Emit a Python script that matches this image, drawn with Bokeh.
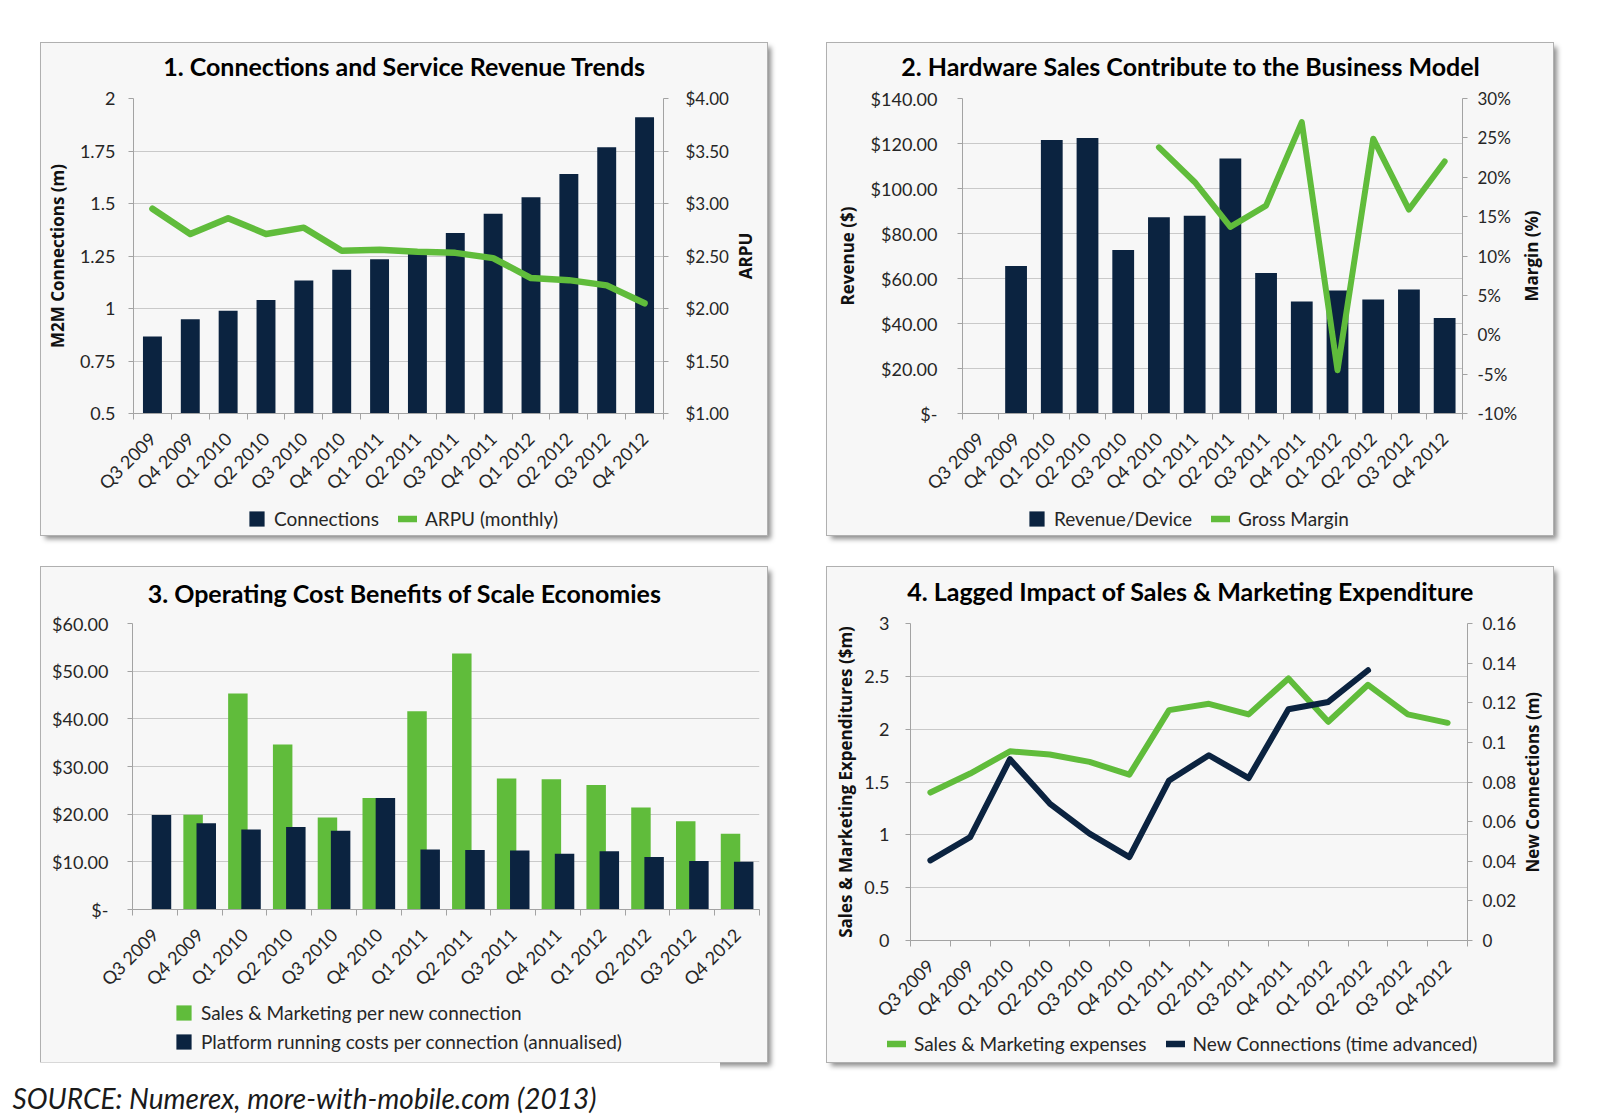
import math
from bokeh.plotting import figure
from bokeh.models import (Range1d, LinearAxis, FixedTicker, CustomJSTickFormatter,
                          Legend, LegendItem, Label, Spacer, ColumnDataSource, Plot)
from bokeh.layouts import column, row
from bokeh.embed import file_html
from bokeh.resources import INLINE
from bokeh.transform import dodge

NAN = float("nan")

# ---------------- data ----------------
quarters = ["Q3 2009", "Q4 2009", "Q1 2010", "Q2 2010", "Q3 2010", "Q4 2010",
            "Q1 2011", "Q2 2011", "Q3 2011", "Q4 2011", "Q1 2012", "Q2 2012",
            "Q3 2012", "Q4 2012"]

# 1. Connections and Service Revenue Trends
connections_m = [0.867, 0.949, 0.989, 1.041, 1.133, 1.184, 1.235, 1.27,
                 1.359, 1.451, 1.53, 1.641, 1.768, 1.911]
arpu_monthly = [2.95, 2.71, 2.86, 2.71, 2.77, 2.55, 2.56, 2.54, 2.53, 2.48,
                2.29, 2.27, 2.22, 2.05]

# 2. Hardware Sales Contribute to the Business Model
revenue_per_device = [NAN, 65.6, 121.6, 122.5, 72.7, 87.2, 87.9, 113.3, 62.5,
                      49.8, 54.7, 50.7, 55.1, 42.5]
gross_margin_pct = [NAN, NAN, NAN, NAN, NAN, 23.8, 19.4, 13.7, 16.4, 27.0,
                    -4.5, 24.9, 15.9, 22.0]

# 3. Operating Cost Benefits of Scale Economies
sm_per_new_connection = [NAN, 19.9, 45.3, 34.6, 19.3, 23.4, 41.6, 53.7, 27.5,
                         27.3, 26.1, 21.4, 18.5, 15.9]
platform_cost_per_connection = [19.8, 18.1, 16.8, 17.3, 16.5, 23.4, 12.6, 12.5,
                                12.4, 11.7, 12.2, 11.0, 10.2, 10.0]

# 4. Lagged Impact of Sales & Marketing Expenditure
sm_expenses_m = [1.40, 1.58, 1.79, 1.76, 1.69, 1.57, 2.18, 2.24, 2.14, 2.48,
                 2.07, 2.42, 2.14, 2.06]
new_connections_m = [0.0404, 0.0522, 0.0915, 0.0691, 0.0539, 0.0421, 0.0808,
                     0.0935, 0.0820, 0.1167, 0.1204, 0.1364, NAN, NAN]

# tick values
ticks_conn = [0.5, 0.75, 1, 1.25, 1.5, 1.75, 2]
ticks_arpu = [1, 1.5, 2, 2.5, 3, 3.5, 4]
ticks_rev = [0, 20, 40, 60, 80, 100, 120, 140]
ticks_margin = [-10, -5, 0, 5, 10, 15, 20, 25, 30]
ticks_cost = [0, 10, 20, 30, 40, 50, 60]
ticks_sm = [0, 0.5, 1, 1.5, 2, 2.5, 3]
ticks_newconn = [0, 0.02, 0.04, 0.06, 0.08, 0.1, 0.12, 0.14, 0.16]

# ---------------- style ----------------
NAVY = "#0b2340"
GREEN = "#60bc3b"
BG = "#f7f7f7"
GRID = "#c9c9c9"
AXIS = "#a3a3a3"
TXT = "#262626"
FONT = "Lato"
AXT_FONT = "Open Sans"
PANEL_STYLE = {"background-color": BG,
               "box-shadow": "0 0 0 1px #b0b0b0, 4px 4px 5px rgba(0,0,0,0.45)"}

HAS_FRAME_ALIGN = "frame_align" in Plot.properties()

idx = list(range(len(quarters)))
src = ColumnDataSource(dict(
    x=idx, conn=connections_m, arpu=arpu_monthly, rev=revenue_per_device,
    margin=gross_margin_pct, sm=sm_per_new_connection,
    plat=platform_cost_per_connection, sme=sm_expenses_m, newc=new_connections_m))

FMT_NUM = "return String(parseFloat(tick.toFixed(4)));"
FMT_DOLLAR = "return tick == 0 ? '$-' : '$' + tick.toFixed(2);"


def no_align(p):
    if HAS_FRAME_ALIGN:
        p.frame_align = False


def blank_fig(h, w=726, bg=BG):
    f = figure(width=w, height=h, x_range=Range1d(0, 1), y_range=Range1d(0, 1),
               x_axis_type=None, y_axis_type=None, tools="", toolbar_location=None,
               output_backend="svg", min_border_left=0, min_border_right=0,
               min_border_top=0, min_border_bottom=0, outline_line_color=None,
               background_fill_color=bg, border_fill_color=bg)
    no_align(f)
    return f


def style_y(ax, standoff, size="18px", title=None, title_standoff=8):
    ax.axis_line_color = AXIS
    ax.major_tick_line_color = AXIS
    ax.major_tick_out = 5
    ax.major_tick_in = 0
    ax.minor_tick_line_color = None
    ax.major_label_standoff = standoff
    ax.major_label_text_font = FONT
    ax.major_label_text_font_size = size
    ax.major_label_text_color = TXT
    if title:
        ax.axis_label = title
        ax.axis_label_standoff = title_standoff
        ax.axis_label_text_font = AXT_FONT
        ax.axis_label_text_font_size = "17px"
        ax.axis_label_text_font_style = "bold"
        ax.axis_label_text_color = "#111111"


def title_fig(text, y):
    t = blank_fig(40)
    t.add_layout(Label(x=363, y=y, x_units="screen", y_units="screen", text=text,
                       text_font=FONT, text_font_size="25px", text_font_style="bold",
                       text_align="center", text_baseline="middle",
                       text_color="#000000"))
    return t


def side_title_fig(text, w, h, x, y):
    f = blank_fig(h, w)
    f.add_layout(Label(x=x, y=y, x_units="screen", y_units="screen", text=text,
                       text_font=AXT_FONT, text_font_size="17px", text_font_style="bold",
                       text_align="center", text_baseline="middle", angle=math.pi / 2,
                       text_color="#111111"))
    return f


def legend_fig(h, entries, loc, orientation="horizontal"):
    f = blank_fig(h)
    items = []
    for label, kind, color in entries:
        if kind == "bar":
            r = f.vbar(x=[NAN], top=[NAN], width=0.5, fill_color=color, line_color=None)
        else:
            r = f.line(x=[NAN], y=[NAN], line_color=color, line_width=6.5,
                       line_cap="round")
        items.append(LegendItem(label=label, renderers=[r]))
    lg = Legend(items=items, location=loc, orientation=orientation,
                glyph_width=19, glyph_height=19, label_standoff=8,
                spacing=19 if orientation == "horizontal" else 6,
                padding=0, margin=0, border_line_color=None,
                background_fill_alpha=0, label_text_font=FONT,
                label_text_font_size="19px", label_text_color=TXT,
                label_height=20)
    f.add_layout(lg, "center")
    return f


def panel(w, h, border, y_range, y_ticks, y_code, y_standoff, y_title=None,
          y_title_standoff=8):
    l, r, t, b = border
    p = figure(width=w, height=h, x_range=Range1d(-0.5, len(quarters) - 0.5),
               y_range=Range1d(*y_range), tools="", toolbar_location=None,
               output_backend="svg", min_border_left=l, min_border_right=r,
               min_border_top=t, min_border_bottom=b,
               background_fill_color=BG, border_fill_color=BG,
               outline_line_color=None)
    no_align(p)
    xa = p.xaxis[0]
    xa.ticker = FixedTicker(ticks=idx,
                            minor_ticks=[i - 0.5 for i in range(len(quarters) + 1)])
    xa.formatter = CustomJSTickFormatter(
        args=dict(labels=quarters),
        code="const i = Math.round(tick); return (i >= 0 && i < labels.length) ? labels[i] : '';")
    xa.major_label_orientation = math.pi / 4
    xa.major_tick_line_color = None
    xa.major_tick_out = 0
    xa.major_tick_in = 0
    xa.minor_tick_line_color = AXIS
    xa.minor_tick_out = 6
    xa.minor_tick_in = 0
    xa.axis_line_color = AXIS
    xa.major_label_standoff = 16
    xa.major_label_text_font = FONT
    xa.major_label_text_font_size = "18px"
    xa.major_label_text_color = TXT
    p.xgrid.visible = False
    yt = FixedTicker(ticks=y_ticks)
    ya = p.yaxis[0]
    ya.ticker = yt
    ya.formatter = CustomJSTickFormatter(code=y_code)
    style_y(ya, y_standoff, "18px", y_title, y_title_standoff)
    p.ygrid[0].ticker = yt
    p.ygrid.grid_line_color = GRID
    return p


def right_axis(p, name, rng, ticks, code, standoff):
    p.extra_y_ranges = {name: Range1d(*rng)}
    ax = LinearAxis(y_range_name=name, ticker=FixedTicker(ticks=ticks),
                    formatter=CustomJSTickFormatter(code=code))
    style_y(ax, standoff, "17px")
    p.add_layout(ax, "right")


def wrap(*parts):
    c = column(*parts)
    c.styles = PANEL_STYLE
    return c


# ---------------- panel 1 ----------------
t1 = title_fig("1. Connections and Service Revenue Trends", 17.5)
p1 = panel(692, 422, (92, 70, 15, 92), (0.5, 2), ticks_conn, FMT_NUM, 13,
           "M2M Connections (m)", 8)
right_axis(p1, "arpu", (1, 4), ticks_arpu, "return '$' + tick.toFixed(2);", 17)
p1.vbar(x="x", top="conn", bottom=ticks_conn[0], width=0.5, source=src,
        fill_color=NAVY, line_color=None)
p1.line(x="x", y="arpu", source=src, y_range_name="arpu", line_color=GREEN,
        line_width=6.5, line_join="round", line_cap="round")
r1 = side_title_fig("ARPU", 34, 422, 12, 249.5)
g1 = legend_fig(30, [("Connections", "bar", NAVY), ("ARPU (monthly)", "line", GREEN)],
                (206, 5))

# ---------------- panel 2 ----------------
t2 = title_fig("2. Hardware Sales Contribute to the Business Model", 17.5)
p2 = panel(693, 422, (135, 58, 15, 92), (0, 140), ticks_rev, FMT_DOLLAR, 20,
           "Revenue ($)", 9)
right_axis(p2, "margin", (-10, 30), ticks_margin, "return tick + '%';", 10)
p2.vbar(x="x", top="rev", bottom=0, width=0.61, source=src,
        fill_color=NAVY, line_color=None)
p2.line(x="x", y="margin", source=src, y_range_name="margin", line_color=GREEN,
        line_width=6, line_join="round", line_cap="round")
r2 = side_title_fig("Margin (%)", 33, 422, 11, 249.5)
g2 = legend_fig(30, [("Revenue/Device", "bar", NAVY), ("Gross Margin", "line", GREEN)],
                (200, 5))

# ---------------- panel 3 ----------------
t3 = title_fig("3. Operating Cost Benefits of Scale Economies", 14.5)
p3 = panel(726, 394, (91, 8, 16, 92), (0, 60), ticks_cost, FMT_DOLLAR, 19)
p3.vbar(x=dodge("x", -0.147), top="sm", bottom=0, width=0.435, source=src,
        fill_color=GREEN, line_color=None)
p3.vbar(x=dodge("x", 0.147), top="plat", bottom=0, width=0.435, source=src,
        fill_color=NAVY, line_color=None)
g3 = legend_fig(61, [("Sales & Marketing per new connection", "bar", GREEN),
                     ("Platform running costs per connection (annualised)", "bar", NAVY)],
                (133, 9), "vertical")

# ---------------- panel 4 ----------------
t4 = title_fig("4. Lagged Impact of Sales & Marketing Expenditure", 16.5)
p4 = panel(693, 424, (83, 53, 16, 91), (0, 3), ticks_sm, FMT_NUM, 16,
           "Sales & Marketing Expenditures ($m)", 4)
right_axis(p4, "newc", (0, 0.16), ticks_newconn, FMT_NUM, 10)
p4.line(x="x", y="sme", source=src, line_color=GREEN, line_width=6,
        line_join="round", line_cap="round")
p4.line(x="x", y="newc", source=src, y_range_name="newc", line_color=NAVY,
        line_width=6, line_join="round", line_cap="round")
r4 = side_title_fig("New Connections (m)", 33, 424, 12, 249.3)
g4 = legend_fig(31, [("Sales & Marketing expenses", "line", GREEN),
                     ("New Connections (time advanced)", "line", NAVY)],
                (60, 7))

# ---------------- source line ----------------
ps = blank_fig(52, w=720, bg="white")
ps.add_layout(Label(x=12, y=17, x_units="screen", y_units="screen",
                    text="SOURCE: Numerex, more-with-mobile.com (2013)",
                    text_font=FONT, text_font_size="28px", text_font_style="italic",
                    text_align="left", text_baseline="middle", text_color="#1a1a1a"))

layout = column(
    Spacer(height=43),
    row(Spacer(width=41), wrap(t1, row(p1, r1), g1), Spacer(width=60),
        wrap(t2, row(p2, r2), g2)),
    Spacer(height=32),
    row(Spacer(width=41), wrap(t3, p3, g3), Spacer(width=60),
        wrap(t4, row(p4, r4), g4)),
    ps,
)

open("out.html", "w").write(file_html(layout, INLINE, title="Numerex charts"))
